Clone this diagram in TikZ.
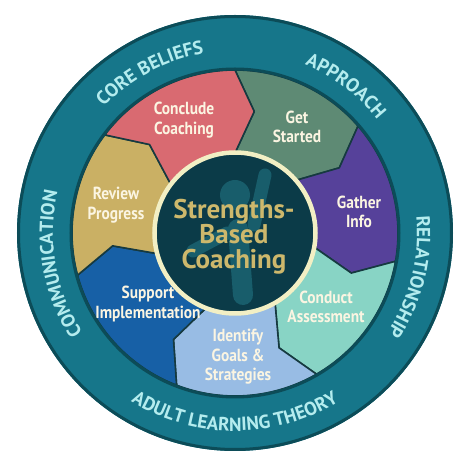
\documentclass[tikz,border=0pt]{standalone}
\usepackage{fontspec}
\setmainfont{PT Sans}
\newfontfamily\labelface{PT Sans}[FakeStretch=0.88]
\usetikzlibrary{decorations.text}
\definecolor{ringteal}{HTML}{16768A}
\definecolor{ringdark}{HTML}{0C4C58}
\definecolor{ringtext}{HTML}{B4ECEE}
\definecolor{hubfill}{HTML}{0B3B48}
\definecolor{hubcream}{HTML}{F2EFC4}
\definecolor{hubgold}{HTML}{CDB86C}
\definecolor{figteal}{HTML}{185D6B}
\definecolor{segline}{HTML}{163A40}
\definecolor{labelcream}{HTML}{FBF5E2}
\definecolor{cpink}{HTML}{D96A71}
\definecolor{cgreen}{HTML}{5E8A74}
\definecolor{cpurple}{HTML}{56419A}
\definecolor{cmint}{HTML}{88D4C5}
\definecolor{clight}{HTML}{98BCE4}
\definecolor{cblue}{HTML}{1760A6}
\definecolor{ctan}{HTML}{CAB064}
\newcommand{\ringfont}{\color{ringtext}\bfseries\fontsize{19}{19}\selectfont}
\tikzstyle{segment}=[draw=segline, line width=1.6pt, line join=round]
\tikzstyle{steplabel}=[text=labelcream, font=\labelface\bfseries\fontsize{17.5}{19.5}\selectfont, align=center, inner sep=0pt]
\tikzstyle{hub}=[circle, fill=hubfill, draw=hubcream, line width=4.5pt, minimum size=161pt, inner sep=0pt]
\tikzstyle{hubtext}=[text=hubgold, font=\bfseries\fontsize{27}{25}\selectfont, align=center, inner sep=0pt]
\tikzstyle{limb}=[draw=figteal, line cap=round]
\begin{document}
\begin{tikzpicture}[x=1pt, y=1pt]
    \useasboundingbox (-235,-232) rectangle (239,233);

    % outer ring
    \fill[ringteal] (0,0) circle (218);
    \draw[ringdark, line width=3pt] (0,0) circle (216.5);

    % the seven coaching steps
    \foreach \a/\b/\col/\lx/\ly/\name/\txt in {
        90/41/cgreen/62/106/getstarted/{Get\\Started},
        41/-10/cpurple/124/21/gatherinfo/{Gather\\Info},
        -10/-60/cmint/91/-74/conduct/{Conduct\\Assessment},
        -60/-111/clight/3/-124/identify/{Identify\\Goals \&\\Strategies},
        -111/-165/cblue/-87/-71/support/{Support\\Implementation},
        -165/-217/ctan/-119/28/review/{Review\\Progress},
        143/90/cpink/-51/113/conclude/{Conclude\\Coaching}}
    {
        \path[segment, fill=\col] (\a:163) arc[start angle=\a, end angle=\b, radius=163]
            -- (\b-9:123) -- (\b:80) arc[start angle=\b, end angle=\a, radius=80]
            -- (\a-9:123) -- cycle;
        \node[steplabel] (\name) at (\lx,\ly) {\txt};
    }
    \draw[ringdark, line width=3pt] (0,0) circle (164);

    % ring words
    \foreach \from/\to/\r/\word in {
        150/86/182/{CORE BELIEFS},
        80/26/182/{APPROACH},
        22/-50/182/{RELATIONSHIP},
        232/148/182/{COMMUNICATION},
        -140/-40/198/{ADULT LEARNING THEORY}}
        \path[decorate, decoration={text along path, text align=center,
            text={|\ringfont|\word}}]
            (\from:\r) arc[start angle=\from, end angle=\to, radius=\r];

    % centre
    \node[hub] (hub) at (0,0) {};
    \draw[limb, line width=20pt] (3,4) -- (8,-62);
    \draw[limb, line width=13pt] (19,8) -- (30,58);
    \draw[limb, line width=13pt] (-8,0) -- (-42,-18);
    \fill[figteal] (0,38) circle (15);
    \node[hubtext] (title) at (-1,-4) {Strengths-\\Based\\Coaching};

\end{tikzpicture}
\end{document}
